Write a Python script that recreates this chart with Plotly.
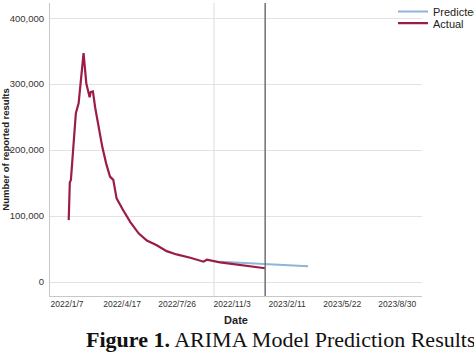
import plotly.graph_objects as go

# ---- data ----
actual_dates = [
    "2022-01-10", "2022-01-12", "2022-01-14", "2022-01-18", "2022-01-23", "2022-01-28",
    "2022-02-01", "2022-02-06", "2022-02-11", "2022-02-17", "2022-02-19", "2022-02-23",
    "2022-02-27", "2022-03-05", "2022-03-12", "2022-03-19", "2022-03-26", "2022-04-01",
    "2022-04-07", "2022-04-19", "2022-05-02", "2022-05-17", "2022-06-01", "2022-06-19",
    "2022-07-07", "2022-07-25", "2022-08-19", "2022-09-12", "2022-09-18", "2022-10-12",
    "2022-11-12", "2022-12-12", "2022-12-24", "2023-01-02",
]
actual_values = [
    94000, 151000, 155000, 200000, 256000, 271000,
    306000, 347000, 301000, 280000, 288000, 289000,
    265000, 235000, 205000, 180000, 160000, 155000,
    127000, 109000, 91000, 74000, 63000, 56000,
    47000, 42000, 37000, 31000, 34000, 30000,
    27000, 24000, 22000, 21000,
]

predict_dates = ["2022-10-12", "2022-11-12", "2023-01-02", "2023-03-21"]
predict_values = [31000, 29500, 28000, 24000]

x_tick_dates = ["2022-01-07", "2022-04-17", "2022-07-26", "2022-11-03",
                "2023-02-11", "2023-05-22", "2023-08-30"]
x_tick_labels = ["2022/1/7", "2022/4/17", "2022/7/26", "2022/11/3",
                 "2023/2/11", "2023/5/22", "2023/8/30"]
y_tick_values = [0, 100000, 200000, 300000, 400000]

reference_date = "2022-10-01"      # light vertical reference line
forecast_start = "2023-01-02"      # dark vertical line (end of actual data)

x_range = ["2021-12-07", "2023-10-14"]
y_range = [-21000, 423000]

# ---- figure ----
fig = go.Figure()
fig.add_trace(go.Scatter(
    x=predict_dates, y=predict_values, mode="lines", name="Predicted",
    line=dict(color="#8fb4d6", width=2), legend="legend",
))
fig.add_trace(go.Scatter(
    x=actual_dates, y=actual_values, mode="lines", name="Actual",
    line=dict(color="#9c1c48", width=2.2), legend="legend2",
))

fig.add_vline(x=reference_date, line=dict(color="#dcdcdc", width=1), layer="below")
fig.add_vline(x=forecast_start, line=dict(color="#707070", width=1.5))

legend_common = dict(
    x=0.922, xanchor="left", yanchor="middle",
    bgcolor="rgba(0,0,0,0)", borderwidth=0,
    font=dict(size=11, color="#222222"),
    itemwidth=30, tracegroupgap=0,
)

fig.update_layout(
    width=474, height=362,
    margin=dict(l=50, r=52, t=3, b=66, pad=0, autoexpand=False),
    paper_bgcolor="white", plot_bgcolor="white",
    font=dict(family="Liberation Sans, Arial, sans-serif", color="#333333"),
    showlegend=True,
    legend=dict(y=0.971, **legend_common),
    legend2=dict(y=0.931, **legend_common),
    xaxis=dict(
        range=x_range, type="date",
        tickmode="array", tickvals=x_tick_dates, ticktext=x_tick_labels,
        tickfont=dict(size=8.5, color="#333333"),
        showgrid=False, zeroline=False,
        showline=True, linecolor="#c8c8c8", linewidth=1,
        ticks="", ticklabelstandoff=0,
        title=dict(text="<b>Date</b>", font=dict(size=11, color="#222222"), standoff=8),
    ),
    yaxis=dict(
        range=y_range,
        tickmode="array", tickvals=y_tick_values,
        tickformat=",d",
        tickfont=dict(size=9.5, color="#333333"),
        showgrid=True, gridcolor="#e3e3e3", gridwidth=1,
        zeroline=False,
        showline=True, linecolor="#c8c8c8", linewidth=1,
        ticks="", ticklabelstandoff=3,
        title=dict(text="<b>Number of reported results</b>",
                   font=dict(size=9.5, color="#222222"), standoff=1),
    ),
)

fig.add_annotation(
    xref="paper", yref="paper", x=0.0914, y=-0.15,
    xanchor="left", yanchor="middle", showarrow=False,
    text="<b>Figure 1.</b> ARIMA Model Prediction Results",
    font=dict(family="Liberation Serif, Times New Roman, serif", size=22, color="#111111"),
)

fig.write_html("out.html", config={"displayModeBar": False},
               post_script="document.body.style.margin='0';")
